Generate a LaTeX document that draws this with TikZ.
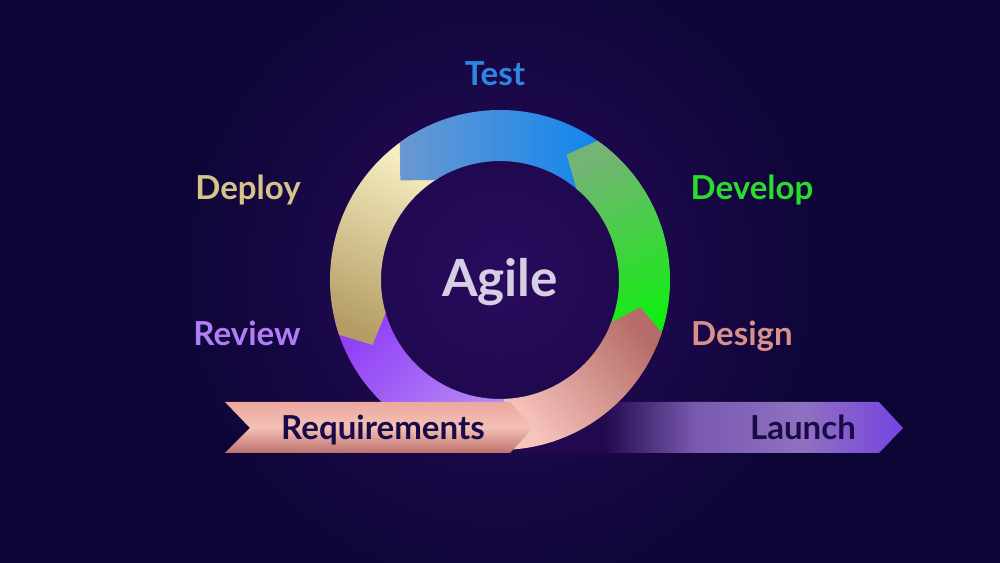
\documentclass[tikz,border=0pt]{standalone}
\usepackage{fontspec}
\setmainfont{Lato}
\usepackage{tikz}

\definecolor{bgdark}{HTML}{0C0535}
\definecolor{bgglow}{HTML}{2A0B5E}
\definecolor{pinklight}{HTML}{F7C5BD}
\definecolor{pinkdark}{HTML}{B66C68}
\definecolor{greenbright}{HTML}{0EF00E}
\definecolor{greenmuted}{HTML}{74B474}
\definecolor{bluebright}{HTML}{0A84F0}
\definecolor{bluemuted}{HTML}{6A98D2}
\definecolor{cream}{HTML}{F8F0C4}
\definecolor{khaki}{HTML}{B49C64}
\definecolor{violetdark}{HTML}{9040F6}
\definecolor{violetlight}{HTML}{BA8EF4}
\definecolor{reqtop}{HTML}{EBA89E}
\definecolor{reqmid}{HTML}{F4C0B6}
\definecolor{reqbot}{HTML}{BC716C}
\definecolor{lchdark}{HTML}{22094F}
\definecolor{lchmid}{HTML}{7A5AB0}
\definecolor{lchlight}{HTML}{9070C0}
\definecolor{lchend}{HTML}{7444E2}
\definecolor{navytext}{HTML}{1B0A48}
\definecolor{testblue}{HTML}{2C87E2}
\definecolor{deploygold}{HTML}{D6C38C}
\definecolor{developgreen}{HTML}{2BDD2B}
\definecolor{reviewviolet}{HTML}{B27EF5}
\definecolor{designsalmon}{HTML}{D8918A}
\definecolor{agilegray}{HTML}{D6CEE4}

\pgfdeclarehorizontalshading{launchfill}{100bp}{color(0bp)=(lchdark); color(36bp)=(lchdark); color(48bp)=(lchmid); color(62bp)=(lchlight); color(75bp)=(lchend); color(100bp)=(lchend)}

\tikzset{
  phase/.style={font=\fontsize{9.4}{11}\selectfont\bfseries, anchor=base},
  bandlabel/.style={phase, text=navytext}
}

\begin{document}
\begin{tikzpicture}[x=0.1mm, y=0.1mm]
\useasboundingbox (0,0) rectangle (1000,563);
\fill[bgdark] (0,0) rectangle (1000,563);
\shade[inner color=bgglow, outer color=bgdark] (500,290) circle (340);

\coordinate (o) at (500,283);

\shade[shading=launchfill] (520,161) -- (879,161) -- (903,135) -- (879,110) -- (520,110) -- cycle;

\begin{scope}[shift={(o)}]
\shade[top color=violetdark, bottom color=violetlight, shading angle=45]
  (194:170) arc[start angle=194, end angle=272, radius=170] -- (272:119)
  arc[start angle=272, end angle=194, radius=119] -- cycle;
\shade[top color=cream, bottom color=khaki, shading angle=-24]
  (121:170) arc[start angle=121, end angle=198.8, radius=170] -- (207:143) -- (196:119)
  arc[start angle=196, end angle=121, radius=119] -- cycle;
\shade[left color=bluemuted, right color=bluebright]
  (48:170) arc[start angle=48, end angle=126.1, radius=170] -- (135:141) -- (123:119)
  arc[start angle=123, end angle=48, radius=119] -- cycle;
\shade[top color=greenmuted, bottom color=greenbright, shading angle=25]
  (-23:170) arc[start angle=-23, end angle=55, radius=170] -- (62:142) -- (50:119)
  arc[start angle=50, end angle=-23, radius=119] -- cycle;
\shade[top color=pinklight, bottom color=pinkdark, shading angle=130]
  (-88:170) arc[start angle=-88, end angle=-18, radius=170] -- (-11:143) -- (-21:119)
  arc[start angle=-21, end angle=-88, radius=119] -- cycle;
\end{scope}

\shade[top color=reqtop, bottom color=reqbot, middle color=reqmid]
  (225,161) -- (510,161) -- (533,135) -- (510,110) -- (225,110) -- (250,135) -- cycle;

\node[font=\fontsize{14.6}{17}\selectfont\bfseries, anchor=base, text=agilegray] (agile) at (500,266) {Agile};
\node[phase, text=testblue] (test) at (495,477) {Test};
\node[phase, text=deploygold] (deploy) at (248,363) {Deploy};
\node[phase, text=developgreen] (develop) at (752,363) {Develop};
\node[phase, text=reviewviolet] (review) at (247,217) {Review};
\node[phase, text=designsalmon] (design) at (742,217) {Design};
\node[bandlabel] (requirements) at (383,123) {Requirements};
\node[bandlabel] (launch) at (803,123) {Launch};
\end{tikzpicture}
\end{document}
